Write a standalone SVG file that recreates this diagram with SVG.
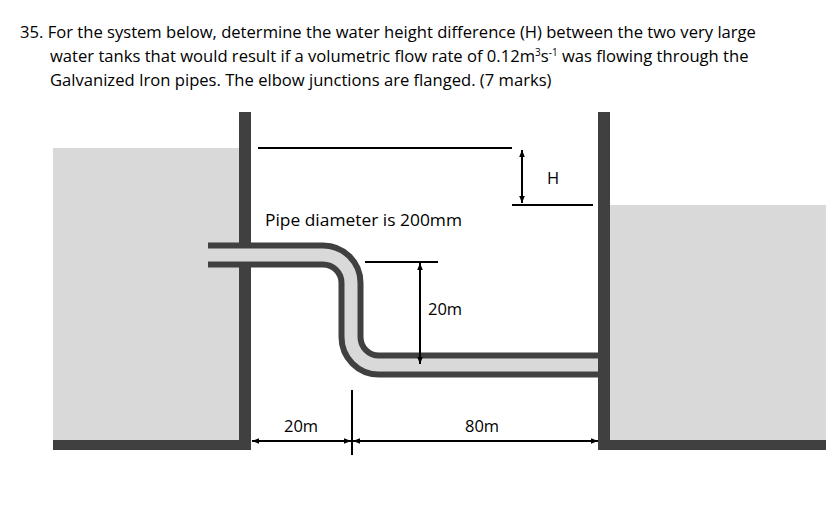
<svg xmlns="http://www.w3.org/2000/svg" width="832" height="509" viewBox="0 0 832 509">
<defs>
<marker id="ah" viewBox="0 0 10 10" refX="10" refY="5" markerWidth="7" markerHeight="7" orient="auto-start-reverse" markerUnits="userSpaceOnUse"><path d="M0,1 L10,5 L0,9 z" fill="#000"/></marker>
<style>
text{font-family:"Open Sans","Noto Sans",sans-serif;fill:#000}
.q{font-size:16.6px}
.l{font-size:16.5px}
.dark{fill:#404040}
.gray{fill:#d9d9d9}
.dim{stroke:#000;stroke-width:2;fill:none}
</style>
</defs>
<rect width="832" height="509" fill="#fff"/>
<g id="question">
<text class="q" x="20" y="38">35. For the system below, determine the water height difference (H) between the two very large</text>
<text class="q" x="50" y="62">water tanks that would result if a volumetric flow rate of 0.12m<tspan font-size="10" dy="-6">3</tspan><tspan dy="6">s</tspan><tspan font-size="10" dy="-6">-1</tspan><tspan dy="6"> was flowing through the</tspan></text>
<text class="q" x="50" y="86">Galvanized Iron pipes. The elbow junctions are flanged. (7 marks)</text>
</g>
<g id="left-tank">
<rect class="gray" x="53" y="148" width="186" height="292"/>
<rect class="dark" x="239" y="112" width="12" height="338"/>
<rect class="dark" x="53" y="440" width="198" height="10"/>
</g>
<g id="right-tank">
<rect class="gray" x="610" y="205" width="216" height="235"/>
<rect class="dark" x="598" y="112" width="12" height="338"/>
<rect class="dark" x="598" y="440" width="228" height="10"/>
</g>
<g id="pipe">
<path d="M208,255 H323 A28,28 0 0 1 351,283 V337 A28,28 0 0 0 379,365 H598" fill="none" stroke="#404040" stroke-width="25"/>
<path d="M208,255 H323 A28,28 0 0 1 351,283 V337 A28,28 0 0 0 379,365 H598" fill="none" stroke="#d9d9d9" stroke-width="13"/>
</g>
<g id="connectors">
<line class="dim" x1="258" y1="148" x2="512" y2="148"/>
<line class="dim" x1="512" y1="205" x2="593" y2="205"/>
<line class="dim" x1="522" y1="150" x2="522" y2="203" marker-start="url(#ah)" marker-end="url(#ah)"/>
<line class="dim" x1="365" y1="262" x2="438" y2="262"/>
<line class="dim" x1="420" y1="263" x2="420" y2="364" marker-start="url(#ah)" marker-end="url(#ah)"/>
<line class="dim" x1="352" y1="390" x2="352" y2="455"/>
<line class="dim" x1="252" y1="441" x2="351" y2="441" marker-start="url(#ah)" marker-end="url(#ah)"/>
<line class="dim" x1="353" y1="441" x2="598" y2="441" marker-start="url(#ah)" marker-end="url(#ah)"/>
</g>
<g id="labels">
<text class="l" x="265" y="226" textLength="197" lengthAdjust="spacingAndGlyphs">Pipe diameter is 200mm</text>
<text class="l" x="547" y="184">H</text>
<text class="l" x="428" y="315">20m</text>
<text class="l" x="284" y="432">20m</text>
<text class="l" x="465" y="432">80m</text>
</g>
</svg>
